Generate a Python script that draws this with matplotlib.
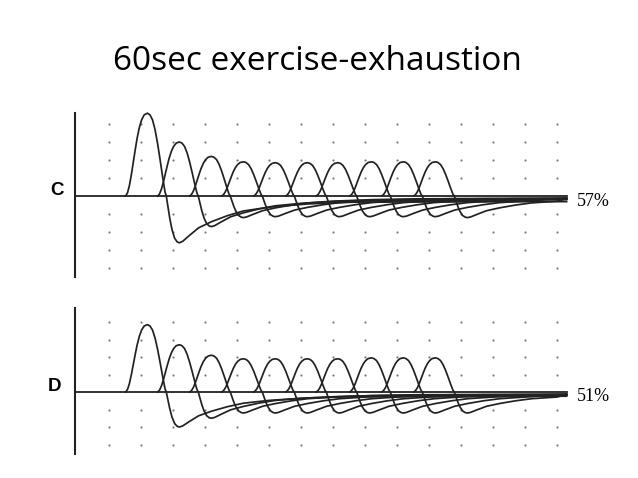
import numpy as np
import matplotlib
matplotlib.use("Agg")
import matplotlib.pyplot as plt

# pulse peak times (grid units, 10 = one dot column)
peak_times = [22, 32, 42, 52, 62, 72, 81.5, 92, 102, 112]

# panel C: peak heights and undershoot depths (dot rows)
c_peaks = [4.6, 3.0, 2.2, 1.9, 1.85, 1.85, 1.85, 1.9, 1.9, 1.9]
c_troughs = [2.6, 1.7, 1.2, 1.15, 1.15, 1.15, 1.15, 1.15, 1.15, 1.2]

# panel D
d_peaks = [3.85, 2.7, 2.1, 1.9, 1.9, 1.9, 1.9, 1.95, 1.95, 1.95]
d_troughs = [2.0, 1.5, 1.2, 1.2, 1.2, 1.2, 1.2, 1.2, 1.2, 1.2]

# pulse shape: time offset from peak, fraction of peak
rise_dt = [-6.8, -6.2, -5.6, -5.0, -4.4, -3.8, -3.2, -2.5, -1.8, -1.0, 0.0,
           0.8, 1.6, 2.4, 3.2, 4.0, 4.8, 5.5, 5.9]
rise_fr = [0.0, 0.04, 0.13, 0.26, 0.41, 0.56, 0.70, 0.83, 0.92, 0.98, 1.0,
           0.98, 0.92, 0.80, 0.63, 0.43, 0.22, 0.05, 0.0]
# undershoot: offset from peak, fraction of trough depth
dip_dt = [6.4, 7.0, 7.7, 8.5, 9.3, 10.0]
dip_fr = [-0.22, -0.48, -0.72, -0.90, -0.98, -1.0]
# recovery after the trough: offset from trough, fraction of depth
tail_dt = [1, 3, 6, 10, 15, 20, 28, 40, 55]
tail_fr = [-0.97, -0.85, -0.68, -0.55, -0.42, -0.32, -0.24, -0.17, -0.13]
trace_end = 153
end_fr = -0.12

labels = ["C", "D"]
percents = ["57%", "51%"]

W, H = 638, 478
fig = plt.figure(figsize=(W / 100, H / 100), dpi=100)

fig.text(317.5 / W, 1 - 70.5 / H, "60sec exercise-exhaustion", ha="center",
         va="baseline", fontsize=24, family="Open Sans")


def make_axes(base_px, px_per_row, ylo, yhi):
    left_px = 77 - 5 * 3.2
    bottom_px = base_px - ylo * px_per_row
    ax = fig.add_axes([left_px / W, 1 - bottom_px / H, 165 * 3.2 / W,
                       (yhi - ylo) * px_per_row / H])
    ax.set_xlim(-5, 160)
    ax.set_ylim(ylo, yhi)
    ax.axis("off")
    return ax


def draw_panel(ax, peaks, troughs, rows_up, rows_down, axis_top, axis_bot,
               label, label_xy, pct, pct_y):
    gx = np.arange(10, 151, 10)
    gy = [r for r in range(-rows_down, rows_up + 1) if r != 0]
    xx, yy = np.meshgrid(gx, gy)
    ax.scatter(xx.ravel(), yy.ravel(), s=2.5, color="#7a7a7a", lw=0)

    ax.plot([-0.6, -0.6], [axis_bot, axis_top], color="#222222", lw=1.5)
    ax.plot([-0.6, trace_end], [0, 0], color="#222222", lw=1.3)

    for tp, a, b in zip(peak_times, peaks, troughs):
        xs = [tp + d for d in rise_dt]
        ys = [a * f for f in rise_fr]
        xs += [tp + d for d in dip_dt]
        ys += [b * f for f in dip_fr]
        t0 = tp + dip_dt[-1]
        for d, f in zip(tail_dt, tail_fr):
            if t0 + d < trace_end - 1:
                xs.append(t0 + d)
                ys.append(b * f)
        xs.append(trace_end)
        ys.append(b * end_fr)
        ax.plot(xs, ys, color="#222222", lw=1.25, solid_joinstyle="round")

    ax.text(label_xy[0], label_xy[1], label, fontsize=13.5, fontweight="bold",
            family="Liberation Sans", ha="center", va="center", clip_on=False)
    ax.text(156.2, pct_y, pct, fontsize=13, family="Liberation Serif",
            ha="left", va="center", clip_on=False)


ax_c = make_axes(196, 18, -4.8, 5.0)
draw_panel(ax_c, c_peaks, c_troughs, 4, 4, 4.61, -4.5, labels[0],
           (-6.2, 0.33), percents[0], -0.28)

ax_d = make_axes(392, 17.5, -3.8, 5.0)
draw_panel(ax_d, d_peaks, d_troughs, 4, 3, 4.8, -3.54, labels[1],
           (-6.9, 0.34), percents[1], -0.23)

fig.savefig("out.png", dpi=100)
